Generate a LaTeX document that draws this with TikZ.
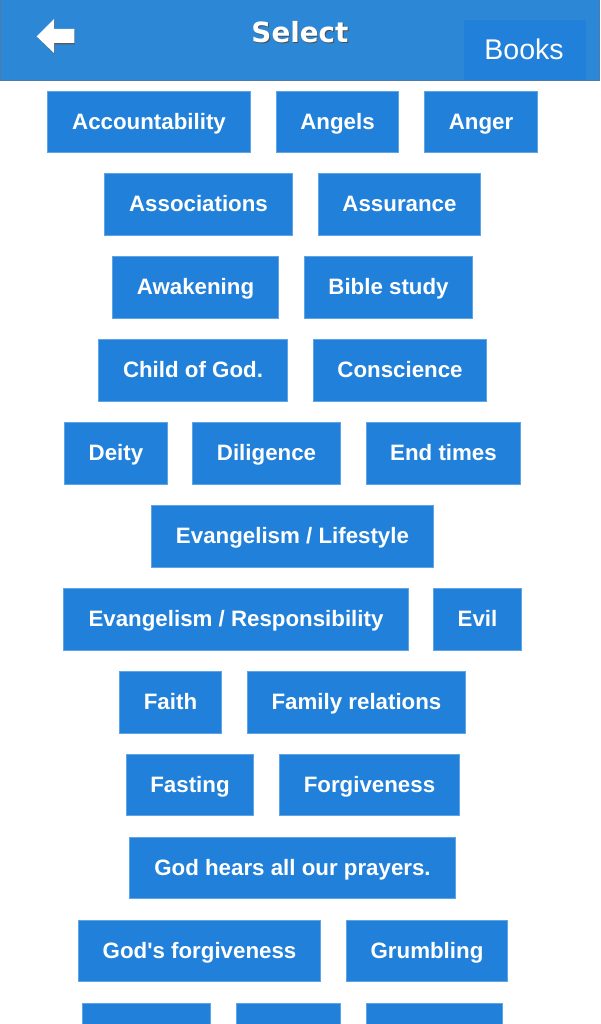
\documentclass[tikz,border=0pt]{standalone}
\usepackage{fontspec}
\setmainfont{Liberation Sans}[Ligatures=TeXOff]
\newfontfamily\titlefont{DejaVu Sans}
\definecolor{barblue}{HTML}{2C88D6}
\definecolor{baredge}{HTML}{4A7CAB}
\definecolor{btnblue}{HTML}{2080DA}
\definecolor{btnedge}{HTML}{5FA5E6}
\tikzset{
	topic/.style={fill=btnblue, draw=btnedge, line width=0.6pt, inner sep=0pt, text=white, text height=18pt, text depth=3pt, font=\fontsize{22.3}{24}\selectfont\bfseries},
	titletext/.style={inner sep=0pt, font=\titlefont\fontsize{27.8}{30}\selectfont\bfseries}
}
\begin{document}
\begin{tikzpicture}[x=1pt, y=-1pt]
	\useasboundingbox (0,0) rectangle (600,1024);
	\fill[color=white] (0,0) rectangle (600,1024);
	% top bar
	\fill[color=barblue, draw=baredge, line width=1.2pt] (0.6,-2) rectangle (599.4,80.5);
	\node[fill=btnblue, inner sep=0pt, minimum width=122pt, minimum height=60pt, anchor=north west] (books) at (464,20) {};
	\node[inner sep=0pt, text=white, font=\fontsize{28.5}{30}\selectfont] (bookslabel) at (524,49) {Books};
	\fill[color=black!65] (37.5,37.5) -- (54.5,20) -- (54.5,30) -- (74.5,30) -- (74.5,44.5) -- (54.5,44.5) -- (54.5,54) -- cycle;
	\fill[color=white] (36.7,36.5) -- (54,19) -- (54,29) -- (74.3,29) -- (74.3,43) -- (54,43) -- (54,53) -- cycle;
	\node[titletext, text=black!70] (selectshadow) at (300.8,33.5) {Select};
	\node[titletext, text=white] (select) at (300,32.3) {Select};
	% topic buttons
	\foreach \name/\xa/\xb/\ya/\lab in {
		acc/47/251/90.6/{Accountability}, ang/276/399/90.6/{Angels}, angr/424/538/90.6/{Anger},
		asc/104/293/173.5/{Associations}, asr/318/481/173.5/{Assurance},
		awk/112/279/256.4/{Awakening}, bib/304/473/256.4/{Bible study},
		chd/98/288/339.4/{Child of God.}, con/313/487/339.4/{Conscience},
		dei/64/168/422.3/{Deity}, dil/192/341/422.3/{Diligence}, end/366/521/422.3/{End times},
		evl/151/434/505.2/{Evangelism / Lifestyle},
		evr/63/409/588.2/{Evangelism / Responsibility}, evi/433/522/588.2/{Evil},
		fai/119/222/671.1/{Faith}, fam/247/466/671.1/{Family relations},
		fas/126/254/754/{Fasting}, frg/279/460/754/{Forgiveness},
		god/129/456/837/{God hears all our prayers.},
		gfg/78/321/919.9/{God's forgiveness}, gru/346/508/919.9/{Grumbling}} {
		\node[topic, minimum width={(\xb-\xa-0.6)*1pt}, minimum height=61.4pt] (\name) at ({(\xa+\xb)/2},{\ya+31}) {\lab};
	}
	% last row runs off the page
	\foreach \name/\xa/\xb in {lasta/82/211, lastb/236/341, lastc/366/503} {
		\node[topic, minimum width={(\xb-\xa-0.6)*1pt}, minimum height=21pt, text height=0pt, text depth=0pt] (\name) at ({(\xa+\xb)/2},1013.4) {};
	}
\end{tikzpicture}
\end{document}
